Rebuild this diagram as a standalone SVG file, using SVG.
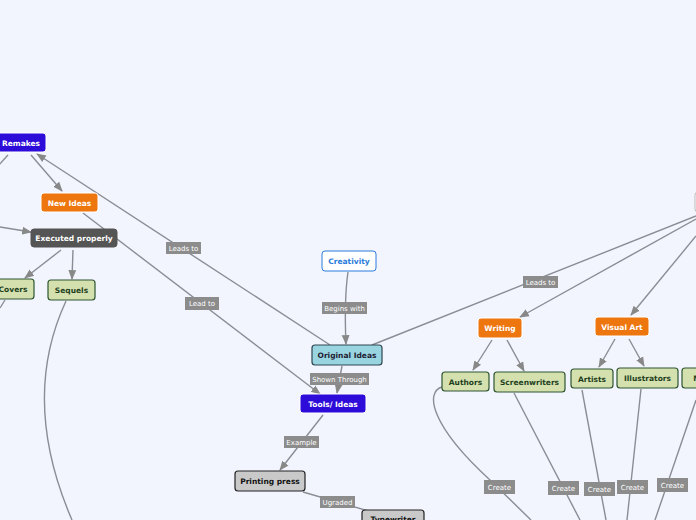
<svg xmlns="http://www.w3.org/2000/svg" width="696" height="520" viewBox="0 0 696 520">
<defs>
<marker id="ar" viewBox="0 0 10 10" refX="9" refY="5" markerWidth="7" markerHeight="7" orient="auto"><path d="M0,1 L10,5 L0,9 z" fill="#888"/></marker>
<style>
.c{fill:none;stroke:#8a8d93;stroke-width:1.4}
.lb rect{fill:#8c8c8c}
.lb text{fill:#fff;font:7px "DejaVu Sans",sans-serif;text-anchor:middle}
.n text{font:bold 7.5px "DejaVu Sans",sans-serif;text-anchor:middle}
.blue rect{fill:#2d0bd8;stroke:#fff;stroke-width:1}
.blue text,.org text,.dark text{fill:#fff}
.org rect{fill:#ee760f;stroke:#fff;stroke-width:1}
.dark rect{fill:#555;stroke:#555}
.grn rect{fill:#d4e0ae;stroke:#2e5530;stroke-width:1.2}
.grn text{fill:#1d3f1d}
.gry rect{fill:#c9c9c9;stroke:#222;stroke-width:1.2}
.gry text{fill:#111}
</style>
</defs>
<rect width="696" height="520" fill="#f2f5fe"/>
<g id="connectors">
<path class="c" d="M31,155 L62,191" marker-end="url(#ar)"/>
<path class="c" d="M8,155 L-2,166"/>
<path class="c" d="M0,227 L31,232" marker-end="url(#ar)"/>
<path class="c" d="M83,213 L320,394" marker-end="url(#ar)"/>
<path class="c" d="M330,345 L37,154" marker-end="url(#ar)"/>
<path class="c" d="M61,250 L25,278" marker-end="url(#ar)"/>
<path class="c" d="M73,250 L72,279" marker-end="url(#ar)"/>
<path class="c" d="M5,300 L0,308"/>
<path class="c" d="M66,301 Q20,400 72,520"/>
<path class="c" d="M348,272 Q344,300 346,344" marker-end="url(#ar)"/>
<path class="c" d="M372,345 L696,216"/>
<path class="c" d="M696,219 L520,317" marker-end="url(#ar)"/>
<path class="c" d="M696,236 L631,315" marker-end="url(#ar)"/>
<path class="c" d="M342,366 L337,393" marker-end="url(#ar)"/>
<path class="c" d="M323,415 L280,470" marker-end="url(#ar)"/>
<path class="c" d="M303,492 L372,512"/>
<path class="c" d="M492,340 L473,370" marker-end="url(#ar)"/>
<path class="c" d="M507,340 L524,371" marker-end="url(#ar)"/>
<path class="c" d="M615,339 L599,367" marker-end="url(#ar)"/>
<path class="c" d="M629,339 L644,366" marker-end="url(#ar)"/>
<path class="c" d="M442,387 C425,392 430,425 490,480 L531,520"/>
<path class="c" d="M514,393 L580,520"/>
<path class="c" d="M582,390 L606,520"/>
<path class="c" d="M641,389 L627,520"/>
<path class="c" d="M696,400 L655,520"/>
<g class="lb"><rect x="166" y="242" width="35" height="12"/><text x="183.5" y="251">Leads to</text></g>
<g class="lb"><rect x="185" y="297" width="34" height="13"/><text x="202" y="306">Lead to</text></g>
<g class="lb"><rect x="322" y="302" width="45" height="12"/><text x="344.5" y="311">Begins with</text></g>
<g class="lb"><rect x="523" y="276" width="35" height="12"/><text x="540.5" y="285">Leads to</text></g>
<g class="lb"><rect x="310" y="373" width="59" height="12"/><text x="339.5" y="382">Shown Through</text></g>
<g class="lb"><rect x="284" y="436" width="35" height="12"/><text x="301.5" y="445">Example</text></g>
<g class="lb"><rect x="320" y="496" width="35" height="12"/><text x="337.5" y="505">Ugraded</text></g>
<g class="lb"><rect x="484" y="480" width="31" height="14"/><text x="499.5" y="490">Create</text></g>
<g class="lb"><rect x="548" y="481" width="31" height="14"/><text x="563.5" y="491">Create</text></g>
<g class="lb"><rect x="584" y="482" width="31" height="14"/><text x="599.5" y="492">Create</text></g>
<g class="lb"><rect x="617" y="480" width="31" height="14"/><text x="632.5" y="490">Create</text></g>
<g class="lb"><rect x="657" y="478" width="31" height="14"/><text x="672.5" y="488">Create</text></g>
</g>
<g id="remakes" class="n blue"><rect x="-6" y="133" width="52" height="19" rx="3"/><text x="21" y="145.5">Remakes</text></g>
<g id="newideas" class="n org"><rect x="41" y="193" width="57" height="19" rx="3"/><text x="69.5" y="205.5">New Ideas</text></g>
<g id="executed" class="n dark"><rect x="31" y="229" width="86" height="18" rx="3"/><text x="74" y="241">Executed properly</text></g>
<g id="covers" class="n grn"><rect x="-6" y="279" width="40" height="20" rx="3"/><text x="13" y="292">Covers</text></g>
<g id="sequels" class="n grn"><rect x="48" y="280" width="47" height="20" rx="3"/><text x="71.5" y="293">Sequels</text></g>
<g id="creativity" class="n"><rect x="322" y="251" width="54" height="20" rx="3" fill="#fff" stroke="#2a7bdb"/><text x="349" y="264" fill="#2a7bdb">Creativity</text></g>
<g id="original" class="n"><rect x="312" y="345" width="70" height="20" rx="3" fill="#99d4e1" stroke="#2d4650" stroke-width="1.2"/><text x="347" y="358" fill="#223">Original Ideas</text></g>
<g id="tools" class="n blue"><rect x="300" y="394" width="66" height="19" rx="3"/><text x="333" y="406.5">Tools/ Ideas</text></g>
<g id="printing" class="n gry"><rect x="235" y="471" width="70" height="20" rx="3"/><text x="270" y="484">Printing press</text></g>
<g id="typewriter" class="n gry"><rect x="362" y="510" width="62" height="20" rx="3"/><text x="393" y="522">Typewriter</text></g>
<g id="topright" class="n"><rect x="695" y="192" width="20" height="20" rx="3" fill="#fff" stroke="#bbb"/></g>
<g id="writing" class="n org"><rect x="478" y="318" width="44" height="20" rx="3"/><text x="500" y="331">Writing</text></g>
<g id="visualart" class="n org"><rect x="595" y="317" width="54" height="19" rx="3"/><text x="622" y="329.5">Visual Art</text></g>
<g id="authors" class="n grn"><rect x="442" y="372" width="47" height="19" rx="3"/><text x="465.5" y="384.5">Authors</text></g>
<g id="screenwriters" class="n grn"><rect x="494" y="372" width="71" height="20" rx="3"/><text x="529.5" y="385">Screenwriters</text></g>
<g id="artists" class="n grn"><rect x="571" y="369" width="42" height="19" rx="3"/><text x="592" y="381.5">Artists</text></g>
<g id="illustrators" class="n grn"><rect x="617" y="368" width="61" height="20" rx="3"/><text x="647.5" y="381">Illustrators</text></g>
<g id="m" class="n grn"><rect x="682" y="368" width="30" height="20" rx="3"/><text x="697" y="381">M</text></g>
</svg>
